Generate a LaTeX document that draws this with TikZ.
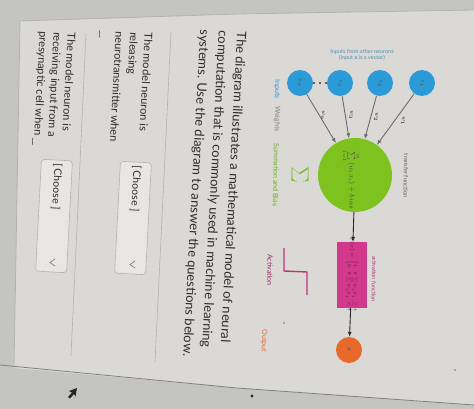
\documentclass[tikz,border=0pt]{standalone}
\usepackage{amsmath}
\usepackage{fontspec}
\setmainfont{Lato}
\usetikzlibrary{arrows.meta}

\definecolor{paper}{HTML}{DAD9D6}
\definecolor{photogrey}{HTML}{C4C4C1}
\definecolor{rule}{HTML}{B2B2AF}
\definecolor{ink}{HTML}{2C2C2C}
\definecolor{inblue}{HTML}{2A9BD6}
\definecolor{sumgreen}{HTML}{7DC21F}
\definecolor{actpink}{HTML}{D2398C}
\definecolor{outorange}{HTML}{E8692B}

\tikzset{
  vtext/.style={rotate=-93, inner sep=0pt, text=ink, align=left},
  tag/.style={rotate=-91, inner sep=0pt, font=\fontsize{7}{8}\selectfont},
  neuron/.style={circle, fill=inblue, minimum size=26pt, inner sep=0pt, rotate=-90,
    font=\fontsize{5}{5}\selectfont, text=black!70},
  wire/.style={draw=gray!85!black, line width=0.9pt, -{Latex[length=5pt,width=4pt]}},
  flow/.style={draw=black!85, line width=0.9pt, -{Latex[length=5pt,width=4pt]}},
  choosebox/.style={draw=rule, fill=white!35!paper, rounded corners=3pt, rotate=-93,
    minimum width=112pt, minimum height=31pt, line width=0.6pt},
}

\begin{document}
\begin{tikzpicture}[x=1pt,y=-1pt]
  \useasboundingbox (0,0) rectangle (474,409);
  % photo background and page
  \fill[photogrey] (0,0) rectangle (474,409);
  \fill[paper] (20,21) -- (237,14) -- (474,10) -- (474,405) -- (237,388) -- (14,368) -- cycle;
  \draw[rule, line width=0.8pt] (20,21) -- (237,14) -- (474,10);
  \draw[rule, line width=0.8pt] (20,21) -- (14,368);
  \draw[gray, line width=0.8pt] (0,365) -- (237,388) -- (474,405);

  % question text
  \node[vtext, anchor=north west, font=\fontsize{13}{18.5}\selectfont] (intro) at (247,32)
    {The diagram illustrates a mathematical model of neural\\
     computation that is commonly used in machine learning\\
     systems. Use the diagram to answer the questions below.};
  \draw[rule, line width=0.6pt] (171,32) -- (155,362);
  \node[vtext, anchor=north west, font=\fontsize{11}{14.5}\selectfont] (qone) at (153,33)
    {The model neuron is\\releasing\\neurotransmitter when\\\underline{\hspace{7pt}}};
  \node[choosebox] (pickA) at (133,218) {};
  \node[vtext, anchor=west, font=\fontsize{10.5}{12}\selectfont] (chooseA) at (137,165) {[ Choose ]};
  \draw[gray, line width=0.7pt] (135,261) -- (130,264.5) -- (135,268);
  \draw[rule, line width=0.6pt] (86,34) -- (71,356);
  \node[vtext, anchor=north west, font=\fontsize{11}{14}\selectfont] (qtwo) at (76,33)
    {The model neuron is\\receiving input from a\\presynaptic cell when \underline{\hspace{7pt}}};
  \node[choosebox] (pickB) at (54,216) {};
  \node[vtext, anchor=west, font=\fontsize{10.5}{12}\selectfont] (chooseB) at (58,163) {[ Choose ]};
  \draw[gray, line width=0.7pt] (55,259) -- (50,262.5) -- (55,266);

  % the neuron model
  \node[font=\fontsize{5.5}{6.5}\selectfont, text=inblue!55!gray, align=center] (caption) at (362,55)
    {Inputs from other neurons\\(input $\mathbf{x}$ is a vector)};
  \node[neuron] (x1) at (422,83) {$x_1$};
  \node[neuron] (x2) at (380,83) {$x_2$};
  \node[neuron] (x3) at (340,83) {$x_3$};
  \node[neuron] (xn) at (300,83) {$x_n$};
  \foreach \d in {314,320,326} \fill[black!80] (\d,83) circle (1.1pt);
  \node[circle, fill=sumgreen, minimum size=74pt, inner sep=0pt] (sum) at (355,175) {};
  \node[rotate=-90, font=\fontsize{7.5}{8}\selectfont, text=black!70] (formula) at (351,180)
    {$\sum\limits_{i=1}^{m}(w_i x_i)+bias$};
  \draw[wire] (x1) -- (sum);
  \draw[wire] (x2) -- (sum);
  \draw[wire] (x3) -- (sum);
  \draw[wire] (xn) -- (sum);
  \node[rotate=-90, font=\fontsize{5}{5}\selectfont] (w1) at (403,121) {$w_1$};
  \node[rotate=-90, font=\fontsize{5}{5}\selectfont] (w2) at (376,117) {$w_2$};
  \node[rotate=-90, font=\fontsize{5}{5}\selectfont] (w3) at (351,115) {$w_3$};
  \node[rotate=-90, font=\fontsize{5}{5}\selectfont] (wn) at (323,115) {$w_n$};
  \node[tag, font=\fontsize{6}{6}\selectfont, text=gray!75!black] (tf) at (406,176) {transfer function};

  \node[rectangle, fill=actpink, minimum width=30pt, minimum height=66pt, inner sep=0pt] (act) at (352,275) {};
  \node[rotate=-90, font=\fontsize{4.5}{5}\selectfont, text=actpink!45!black] (rule) at (act)
    {$f(x)=\begin{cases}1 & \text{if } \sum w_i x_i \ge t\\ 0 & \text{if } \sum w_i x_i < t\end{cases}$};
  \node[tag, font=\fontsize{5.5}{6}\selectfont, text=actpink!85!black] (af) at (374,279) {activation function};
  \node[circle, fill=outorange, minimum size=26pt, inner sep=0pt, rotate=-90,
    font=\fontsize{6}{6}\selectfont, text=black!70] (out) at (349,350) {$y$};
  \draw[flow] (sum) -- (act);
  \draw[flow] (act) -- (out);

  % labels under the model
  \node[rotate=-90, text=sumgreen!85!gray, font=\fontsize{26}{26}\selectfont] (sigma) at (300,175) {$\Sigma$};
  \draw[actpink!90!black, line width=1.4pt] (284,248) -- (284,271) -- (307,272) -- (307,295);
  \node[tag, text=inblue] (lInputs) at (277,89) {Inputs};
  \node[tag, text=gray] (lWeights) at (277,119) {Weights};
  \node[tag, text=sumgreen!90!black] (lSum) at (276,175) {Summation and Bias};
  \node[tag, text=actpink!75!black] (lAct) at (270,270) {Activation};
  \node[tag, text=outorange] (lOut) at (264,341) {Output};

  % specks and pointer
  \fill[black!85] (252,396) circle (1.6pt);
  \fill[black!60] (284,323) circle (0.8pt);
  \fill[black!60] (455,370) circle (0.8pt);
  \fill[black!85] (77,388) -- (69,391) -- (72,392.5) -- (68,397) -- (70,398.5) -- (74,394) -- (75.5,396.5) -- cycle;
\end{tikzpicture}
\end{document}
